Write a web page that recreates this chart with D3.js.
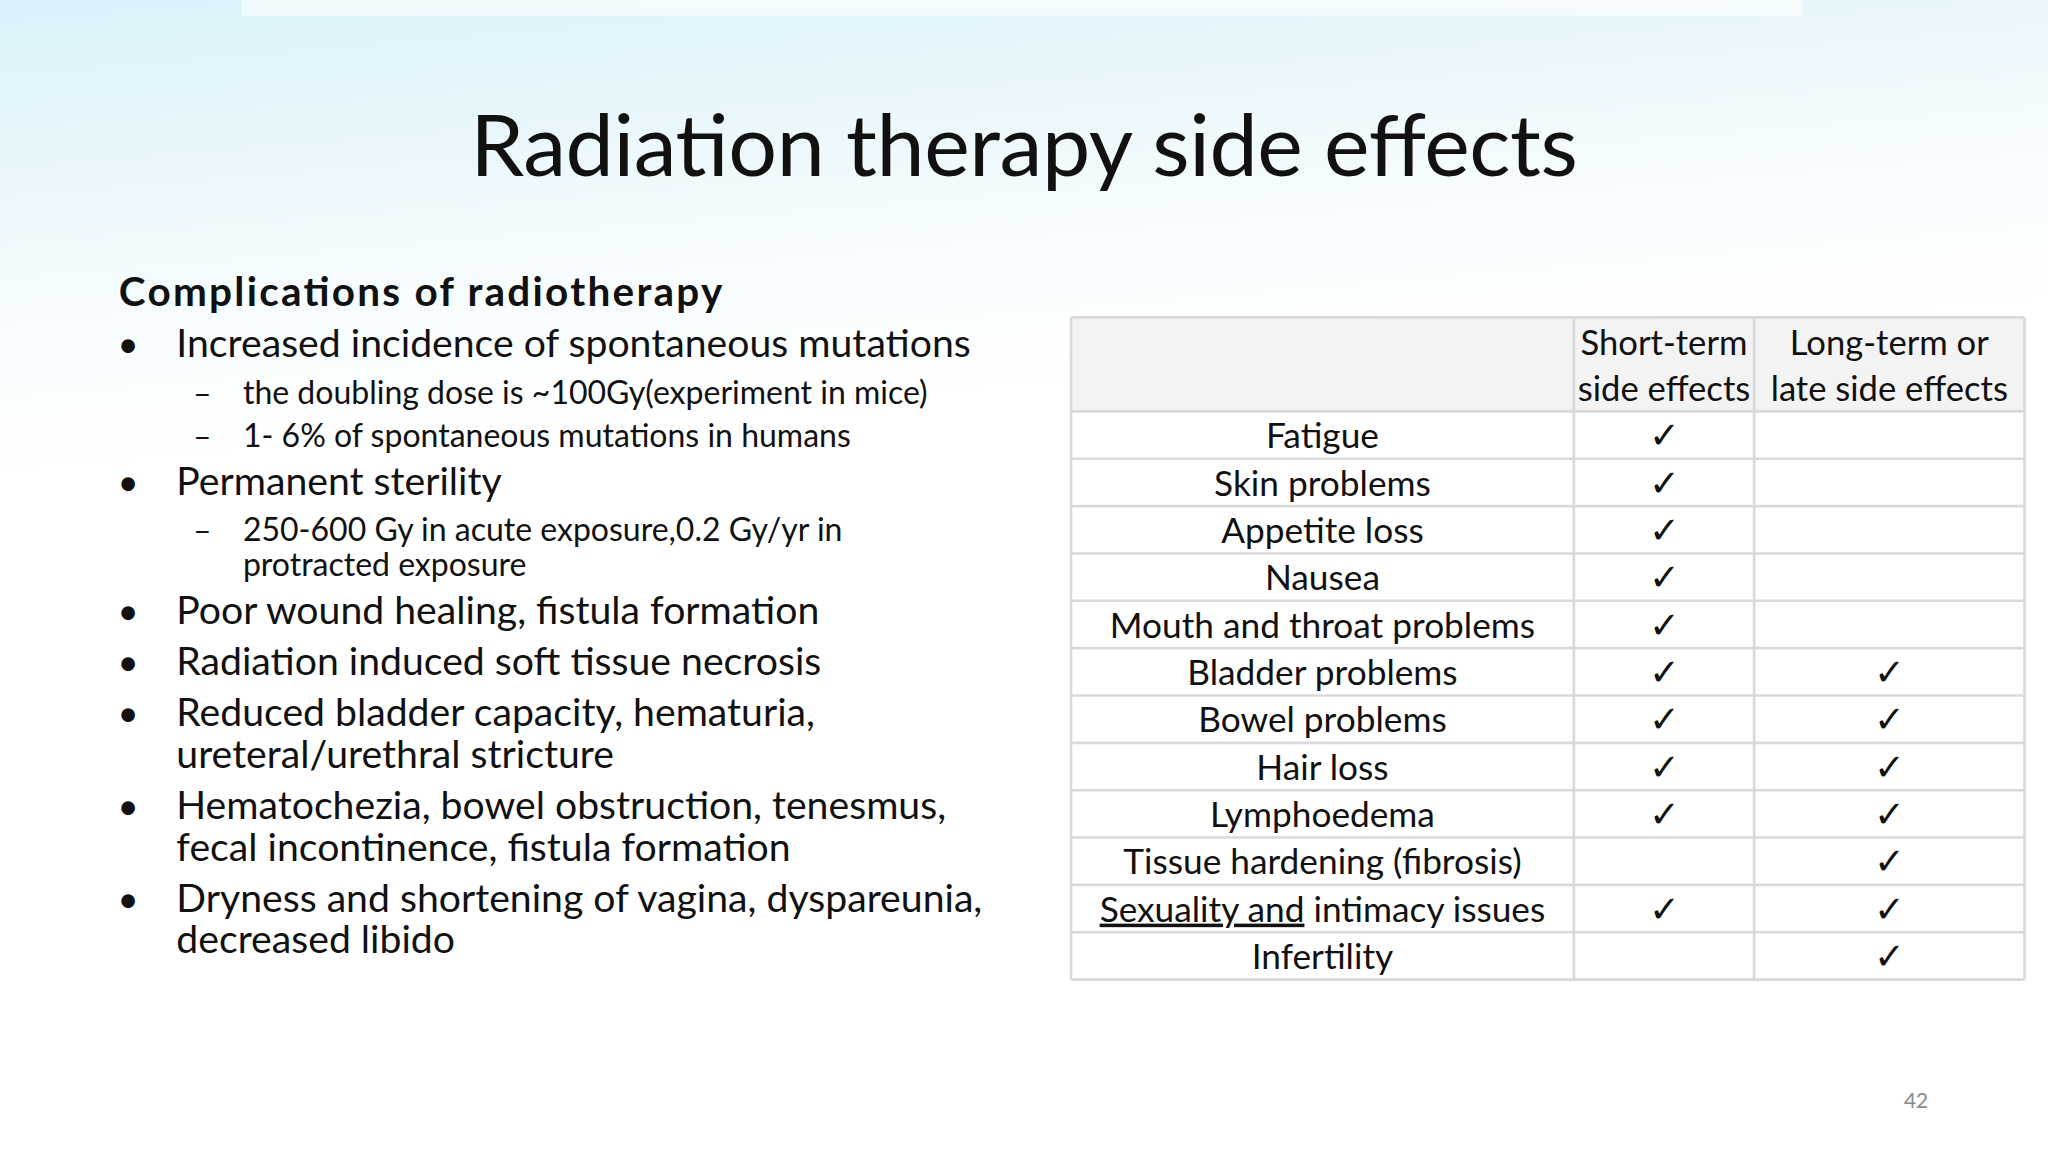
<!DOCTYPE html>
<html>
<head>
<meta charset="utf-8">
<script src="https://cdn.jsdelivr.net/npm/d3@7"></script>
<style>
  body { margin: 0; background: #fff; }
  text { font-family: Lato, "Open Sans", sans-serif; }
</style>
</head>
<body>
<div id="slide"></div>
<script>
const TITLE = 'Radiation therapy side effects';
const HEADING = 'Complications of radiotherapy';

// level 0 = bullet, 1 = dash, cont = continuation line
const BULLETS = [
  { level: 0, text: 'Increased incidence of spontaneous mutations', y: 273 },
  { level: 1, text: 'the doubling dose is ~100Gy(experiment in mice)', y: 309 },
  { level: 1, text: '1- 6% of spontaneous mutations in humans', y: 342 },
  { level: 0, text: 'Permanent sterility', y: 379 },
  { level: 1, text: '250-600 Gy in acute exposure,0.2 Gy/yr in', y: 414 },
  { level: 1, text: 'protracted exposure', y: 441, cont: true },
  { level: 0, text: 'Poor wound healing, fistula formation', y: 478 },
  { level: 0, text: 'Radiation induced soft tissue necrosis', y: 517 },
  { level: 0, text: 'Reduced bladder capacity, hematuria,', y: 556 },
  { level: 0, text: 'ureteral/urethral stricture', y: 588, cont: true },
  { level: 0, text: 'Hematochezia, bowel obstruction, tenesmus,', y: 627 },
  { level: 0, text: 'fecal incontinence, fistula formation', y: 659, cont: true },
  { level: 0, text: 'Dryness and shortening of vagina, dyspareunia,', y: 698 },
  { level: 0, text: 'decreased libido', y: 730, cont: true }
];

const COLUMNS = ['', 'Short-term|side effects', 'Long-term or|late side effects'];
const EFFECTS = ['Fatigue', 'Skin problems', 'Appetite loss', 'Nausea', 'Mouth and throat problems',
  'Bladder problems', 'Bowel problems', 'Hair loss', 'Lymphoedema', 'Tissue hardening (fibrosis)',
  'Sexuality and intimacy issues', 'Infertility'];
const SHORT_TERM = [1, 1, 1, 1, 1, 1, 1, 1, 1, 0, 1, 0];
const LONG_TERM = [0, 0, 0, 0, 0, 1, 1, 1, 1, 1, 1, 1];

const W = 1568, H = 882;
const svg = d3.select('#slide').append('svg')
  .attr('width', 2048).attr('height', 1152)
  .attr('viewBox', `0 0 ${W} ${H}`);

const defs = svg.append('defs');
const grad = defs.append('linearGradient').attr('id', 'bg')
  .attr('x1', 0).attr('y1', 0).attr('x2', 0.15).attr('y2', 1);
grad.append('stop').attr('offset', '0%').attr('stop-color', '#d9f3fa');
grad.append('stop').attr('offset', '12%').attr('stop-color', '#e6f6fb');
grad.append('stop').attr('offset', '26%').attr('stop-color', '#f6fcfe');
grad.append('stop').attr('offset', '40%').attr('stop-color', '#ffffff');
svg.append('rect').attr('width', W).attr('height', H).attr('fill', 'url(#bg)');
svg.append('rect').attr('x', 185).attr('y', 0).attr('width', 1195).attr('height', 12)
  .attr('fill', '#fff').attr('opacity', 0.6);

svg.append('text').attr('x', 784).attr('y', 135).attr('text-anchor', 'middle')
  .attr('font-size', 66).attr('fill', '#111').attr('textLength', 848).text(TITLE);

svg.append('text').attr('x', 91).attr('y', 234).attr('font-size', 31)
  .attr('font-weight', 'bold').attr('fill', '#111').attr('textLength', 462).text(HEADING);

const list = svg.append('g');
BULLETS.forEach(b => {
  const big = b.level === 0;
  if (!b.cont) {
    list.append('text').attr('x', big ? 90 : 148).attr('y', b.y)
      .attr('font-size', big ? 28 : 24).attr('fill', '#111').text(big ? '•' : '–');
  }
  list.append('text').attr('x', big ? 135 : 186).attr('y', b.y)
    .attr('font-size', big ? 30 : 24.5).attr('fill', '#111').text(b.text);
});

// table
const colX = [820, 1205, 1343, 1550];
const headerTop = 243, headerBottom = 315, tableBottom = 750;
const y = d3.scaleBand().domain(EFFECTS).range([headerBottom, tableBottom]);
const tbl = svg.append('g');

tbl.append('rect').attr('x', colX[0]).attr('y', headerTop)
  .attr('width', colX[3] - colX[0]).attr('height', headerBottom - headerTop).attr('fill', '#f3f3f3');
tbl.selectAll('rect.row').data(EFFECTS).join('rect').attr('class', 'row')
  .attr('x', colX[0]).attr('y', d => y(d)).attr('width', colX[3] - colX[0])
  .attr('height', y.bandwidth()).attr('fill', '#fff');

const lineColor = '#d9d9d9';
[headerTop, headerBottom, ...EFFECTS.map(d => y(d) + y.bandwidth())].forEach(v =>
  tbl.append('line').attr('x1', colX[0]).attr('x2', colX[3]).attr('y1', v).attr('y2', v)
    .attr('stroke', lineColor).attr('stroke-width', 2));
colX.forEach(v =>
  tbl.append('line').attr('x1', v).attr('x2', v).attr('y1', headerTop).attr('y2', tableBottom)
    .attr('stroke', lineColor).attr('stroke-width', 2));

COLUMNS.forEach((c, i) => {
  if (!c) return;
  const cx = (colX[i] + colX[i + 1]) / 2;
  c.split('|').forEach((l, j) =>
    tbl.append('text').attr('x', cx).attr('y', 272 + j * 35).attr('text-anchor', 'middle')
      .attr('font-size', 26.5).attr('fill', '#111').text(l));
});

const midName = (colX[0] + colX[1]) / 2;
EFFECTS.forEach((e, i) => {
  const ty = y(e) + y.bandwidth() / 2 + 10;
  const t = tbl.append('text').attr('x', midName).attr('y', ty).attr('text-anchor', 'middle')
    .attr('font-size', 27).attr('fill', '#111');
  if (e.startsWith('Sexuality and')) {
    t.append('tspan').attr('text-decoration', 'underline').text('Sexuality and');
    t.append('tspan').text(e.slice('Sexuality and'.length));
  } else {
    t.text(e);
  }
  [SHORT_TERM[i], LONG_TERM[i]].forEach((v, k) => {
    if (!v) return;
    tbl.append('text').attr('x', (colX[k + 1] + colX[k + 2]) / 2).attr('y', ty)
      .attr('text-anchor', 'middle').attr('font-size', 28).attr('fill', '#111')
      .attr('font-family', 'DejaVu Sans').attr('font-weight', 300).text('\u2713');
  });
});

svg.append('text').attr('x', 1467).attr('y', 848).attr('text-anchor', 'middle')
  .attr('font-size', 16).attr('fill', '#8a8a8a').text('42');
</script>
</body>
</html>
